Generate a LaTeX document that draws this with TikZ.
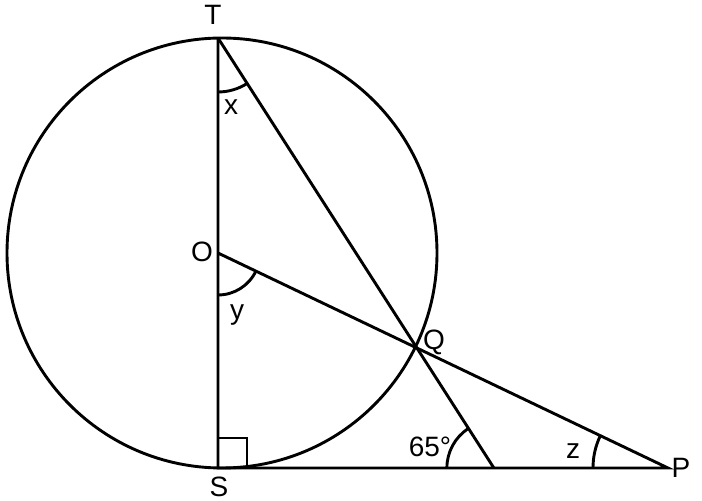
\documentclass[tikz,border=0pt]{standalone}
\usepackage{fontspec}
\setmainfont{Liberation Sans}
\usetikzlibrary{calc,angles}

\begin{document}
\begin{tikzpicture}[x=1pt,y=1pt,line width=2.9pt,
    lbl/.style={font=\fontsize{28}{32}\selectfont, inner sep=0pt}]
                \useasboundingbox (0,0) rectangle (702,501);

                % 点を定義(中心O、直径TS、接線SP)
                \coordinate (O) at (218,248);
                \coordinate (T) at (218,463);
                \coordinate (S) at (218,33);
                \coordinate (P) at (668,33);
                \coordinate (Q) at ($(O)!0.442!(P)$);
                \coordinate (F) at (intersection of T--Q and S--P);

                % 円を描画
                \draw (222,248) circle (215);

                % 線分を描画
                \draw (T) -- (S) -- (P) -- (O);
                \draw (T) -- (F);

                % 直角の印
                \draw ($(S)+(0,30)$) -| ($(S)+(29,0)$);

                % 角の印(x, y, 65°, z)
                \pic[draw, angle radius=54pt] {angle=S--T--Q};
                \pic[draw, angle radius=42pt] {angle=S--O--P};
                \pic[draw, angle radius=47pt] {angle=T--F--S};
                \pic[draw, angle radius=75pt] {angle=O--P--S};

                % 文字を配置
                \node[lbl] (lT) at (213,486) {T};
                \node[lbl] (lO) at (202,249) {O};
                \node[lbl] (lS) at (219,14) {S};
                \node[lbl] (lP) at (681,33) {P};
                \node[lbl] (lQ) at (434,159) {Q};
                \node[lbl] (lx) at (231,394) {x};
                \node[lbl] (ly) at (237,186) {y};
                \node[lbl] (lz) at (573,50) {z};
                \node[lbl] (la) at (430,54) {65°};
            \end{tikzpicture}
\end{document}
